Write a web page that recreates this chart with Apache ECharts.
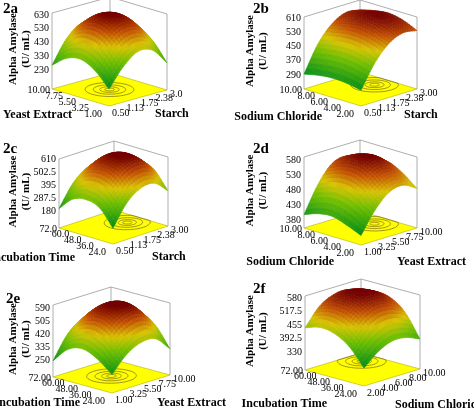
<!DOCTYPE html>
<html><head><meta charset="utf-8">
<script src="https://cdn.jsdelivr.net/npm/echarts@6/dist/echarts.min.js"></script>
<style>html,body{margin:0;background:#fff}#c{width:474px;height:415px}</style>
</head><body><div id="c"></div>
<script>
// ---- data ----
const panelNames = ['2a','2b','2c','2d','2e','2f'];
const leftAxisTitles = ['Yeast Extract','Sodium Chloride','Incubation Time','Sodium Chloride','Incubation Time','Incubation Time'];
const rightAxisTitles = ['Starch','Starch','Starch','Yeast Extract','Yeast Extract','Sodium Chloride'];
const leftTicks = [['10.00','7.75','5.50','3.25','1.00'],['10.00','8.00','6.00','4.00','2.00'],['72.0','60.0','48.0','36.0','24.0'],['10.00','8.00','6.00','4.00','2.00'],['72.00','60.00','48.00','36.00','24.00'],['72.00','60.00','48.00','36.00','24.00']];
const rightTicks = [['0.50','1.13','1.75','2.38','3.0'],['0.50','1.13','1.75','2.38','3.00'],['0.50','1.13','1.75','2.38','3.00'],['1.00','3.25','5.50','7.75','10.00'],['1.00','3.25','5.50','7.75','10.00'],['2.00','4.00','6.00','8.00','10.00']];
const zTicks = [['230','330','430','530','630'],['290','370','450','530','610'],['180','287.5','395','502.5','610'],['380','430','480','530','580'],['250','335','420','505','590'],['330','392.5','455','517.5','580']];
// surface grids: rows = left-axis value from min (front) to max; cols = right-axis value min->max
const surf2a = [[215,350,430,410,290],[320,485,560,540,420],[370,540,625,600,480],[345,520,600,580,460],[265,430,510,490,370]];
const surf2b = [[300,430,515,550,540],[315,455,545,585,575],[320,465,560,600,590],[312,458,550,590,580],[295,442,530,570,560]];
const surf2c = [[170,340,425,430,330],[305,470,560,570,470],[340,510,600,610,510],[310,480,570,580,480],[200,370,460,470,370]];
const surf2d = [[385,455,500,510,485],[405,492,540,550,522],[420,510,565,578,545],[415,505,560,572,540],[398,485,540,550,520]];
const surf2e = [[260,360,410,405,310],[335,475,540,540,440],[375,520,590,590,490],[345,490,560,560,460],[245,390,460,460,360]];
const surf2f = [[330,385,415,412,385],[410,485,522,520,490],[452,530,570,575,540],[462,540,578,580,550],[442,520,555,560,530]];
const surfaces = [surf2a,surf2b,surf2c,surf2d,surf2e,surf2f];

// ---- layout geometry (pixels) ----
const cells = [[0,0],[237,0],[0,140],[237,140],[0,280],[237,280]];
const titlePos = [[3,2],[253,2],[3,142],[253,142],[6,292],[253,282]];
const leftTitlePos = [[72,115],[85,117],[75,118],[97,122],[80,123],[90,124]];
const rightTitlePos = [[155,114],[167,115],[152,117],[160,122],[157,123],[158,125]];
const geom = [
 {F:[109,106],L:[52,89],R:[167,90],off:19,span:55,H:76},
 {F:[124,106],L:[67,89],R:[180,89],off:14,span:57,H:72},
 {F:[113,104],L:[59,88],R:[168,86],off:17,span:52,H:69},
 {F:[124,105],L:[67,88],R:[180,88],off:8,span:60,H:71},
 {F:[112,113],L:[53,97],R:[170,95],off:17,span:52,H:72},
 {F:[127,106],L:[68,90],R:[183,89],off:18,span:54,H:74}
];

function col(t){
  const st=[[0,[0,140,30]],[0.38,[110,190,0]],[0.6,[215,195,0]],[0.8,[195,80,0]],[1,[115,0,0]]];
  t=Math.max(0,Math.min(1,t));
  for(let i=1;i<st.length;i++){ if(t<=st[i][0]){const a=st[i-1],b=st[i];const k=(t-a[0])/(b[0]-a[0]);
    const c=a[1].map((v,j)=>Math.round(v+(b[1][j]-v)*k)); return 'rgb('+c.join(',')+')';}}
  return 'rgb(115,0,0)';
}
function cr(p0,p1,p2,p3,t){
  return 0.5*((2*p1)+(-p0+p2)*t+(2*p0-5*p1+4*p2-p3)*t*t+(-p0+3*p1-3*p2+p3)*t*t*t);
}
function sample(S,x,y){
  const n=S.length-1;
  const g=(i,j)=>{
    const ci=Math.max(0,Math.min(n,i)), cj=Math.max(0,Math.min(n,j));
    let v=S[ci][cj];
    if(i<0)v=2*S[0][cj]-S[1][cj]; if(i>n)v=2*S[n][cj]-S[n-1][cj];
    if(j<0)v=2*S[ci][0]-S[ci][1]; if(j>n)v=2*S[ci][n]-S[ci][n-1];
    return v;};
  const i=Math.min(n-1,Math.floor(x)), j=Math.min(n-1,Math.floor(y)), tx=x-i, ty=y-j;
  const rows=[];
  for(let a=-1;a<=2;a++) rows.push(cr(g(i+a,j-1),g(i+a,j),g(i+a,j+1),g(i+a,j+2),ty));
  return cr(rows[0],rows[1],rows[2],rows[3],tx);
}

const series=[]; const graphics=[];
panelNames.forEach((name,p)=>{
  const [cx,cy]=cells[p], g=geom[p], S=surfaces[p], zt=zTicks[p].map(Number);
  const F=[g.F[0]+cx,g.F[1]+cy], L=[g.L[0]+cx,g.L[1]+cy], R=[g.R[0]+cx,g.R[1]+cy];
  const B=[L[0]+R[0]-F[0], L[1]+R[1]-F[1]];
  const floorPt=(u,v)=>[F[0]+(L[0]-F[0])*u+(R[0]-F[0])*v, F[1]+(L[1]-F[1])*u+(R[1]-F[1])*v];
  const hz=z=>g.off+(z-zt[0])/(zt[4]-zt[0])*g.span;
  const flat=S.flat(), zmin=Math.min(...flat), zmax=Math.max(...flat);
  const n=S.length-1;
  const quads=[];
  for(let i=0;i<n;i++)for(let j=0;j<n;j++)quads.push([i,j]);
  quads.sort((a,b)=>(b[0]+b[1])-(a[0]+a[1]));
  const ST=6;
  series.push({type:'custom',coordinateSystem:'cartesian2d',silent:true,z:3,clip:false,
    data:quads,
    renderItem:(params,api)=>{
      const i=api.value(0), j=api.value(1);
      const kids=[];
      const P=(a,b)=>{const z=sample(S,i+a,j+b);
        const f=floorPt((i+a)/n,(j+b)/n); return {pt:api.coord([f[0],f[1]-hz(z)]),z};};
      const subs=[];
      for(let a=0;a<ST;a++)for(let b=0;b<ST;b++)subs.push([a,b]);
      subs.sort((x,y)=>(y[0]+y[1])-(x[0]+x[1]));
      subs.forEach(([a,b])=>{
        const p1=P(a/ST,b/ST),p2=P(a/ST,(b+1)/ST),p3=P((a+1)/ST,(b+1)/ST),p4=P((a+1)/ST,b/ST);
        const zc=(p1.z+p2.z+p3.z+p4.z)/4, c=col((zc-zmin)/(zmax-zmin));
        kids.push({type:'polygon',shape:{points:[p1.pt,p2.pt,p3.pt,p4.pt]},style:{fill:c,stroke:c,lineWidth:0.6}});
      });
      return {type:'group',children:kids};
    }
  });
  const line=(a,b,w)=>graphics.push({type:'line',z:1,shape:{x1:a[0],y1:a[1],x2:b[0],y2:b[1]},style:{stroke:'#999',lineWidth:w||0.8}});
  const up=(pt)=>[pt[0],pt[1]-g.H];
  graphics.push({type:'polygon',z:2,shape:{points:[F,L,B,R]},style:{fill:'#ffff00',stroke:'#b0b000',lineWidth:0.6}});
  let pi=0,pj=0; S.forEach((r,i)=>r.forEach((v,j)=>{if(v>S[pi][pj]){pi=i;pj=j;}}));
  [0.06,0.12,0.2,0.3].forEach(rad=>{
    const pts=[];for(let k=0;k<=40;k++){const t=k/40*Math.PI*2;
      pts.push(floorPt(Math.min(1,Math.max(0,pi/n+rad*Math.cos(t))),Math.min(1,Math.max(0,pj/n+rad*Math.sin(t)))));}
    graphics.push({type:'polyline',z:2,shape:{points:pts},style:{stroke:'#7a6a20',lineWidth:0.7,fill:null}});
  });
  line(L,up(L));line(B,up(B));line(R,up(R));line(up(L),up(B));line(up(B),up(R));
  const font='Liberation Serif';
  graphics.push({type:'text',z:5,x:titlePos[p][0],y:titlePos[p][1],style:{text:name,font:'bold 15px '+font,fill:'#000'}});
  zTicks[p].forEach((t,k)=>{const y=L[1]-g.off-k*g.span/4;
    graphics.push({type:'text',z:5,x:L[0]-3,y:y,style:{text:t,font:'10px '+font,fill:'#000',align:'right',verticalAlign:'middle'}});});
  graphics.push({type:'text',z:5,x:cx+20,y:L[1]-g.H/2-2,rotation:Math.PI/2,style:{text:'Alpha Amylase\n(U/ mL)',font:'bold 11px '+font,fill:'#000',align:'center',verticalAlign:'middle',lineHeight:13}});
  leftTicks[p].forEach((t,k)=>{const u=1-k/4,q=floorPt(u,0);
    graphics.push({type:'text',z:5,x:q[0]-2-5*(1-u),y:q[1]+1+7*(1-u),style:{text:t,font:'10px '+font,fill:'#000',align:'right',verticalAlign:'middle'}});});
  rightTicks[p].forEach((t,k)=>{const v=k/4,q=floorPt(0,v);
    graphics.push({type:'text',z:5,x:q[0]+3,y:q[1]+7-3*v,style:{text:t,font:'10px '+font,fill:'#000',align:'left',verticalAlign:'middle'}});});
  graphics.push({type:'text',z:5,x:cx+leftTitlePos[p][0],y:cy+leftTitlePos[p][1],style:{text:leftAxisTitles[p],font:'bold 12px '+font,fill:'#000',align:'right',verticalAlign:'middle'}});
  graphics.push({type:'text',z:5,x:cx+rightTitlePos[p][0],y:cy+rightTitlePos[p][1],style:{text:rightAxisTitles[p],font:'bold 12px '+font,fill:'#000',align:'left',verticalAlign:'middle'}});
});

const chart=echarts.init(document.getElementById('c'));
chart.setOption({animation:false,
  grid:{left:0,top:0,width:474,height:415,containLabel:false,outerBoundsMode:'none'},
  xAxis:{type:'value',min:0,max:474,show:false},
  yAxis:{type:'value',min:0,max:415,inverse:true,show:false},
  series, graphic:graphics});
</script></body></html>
